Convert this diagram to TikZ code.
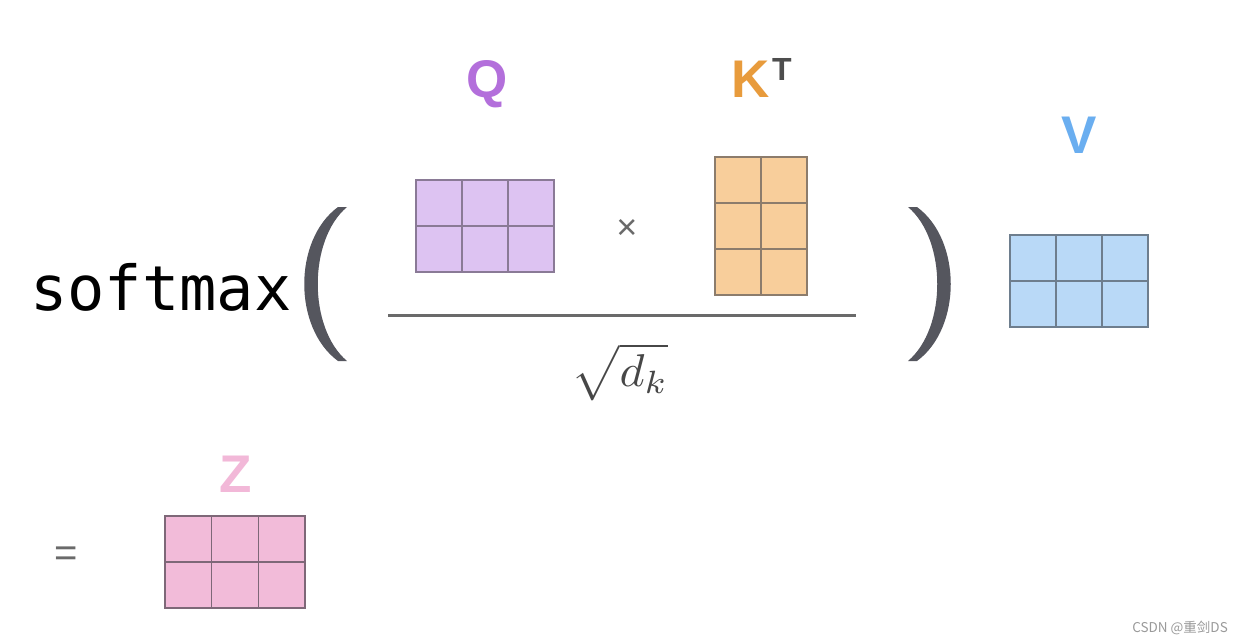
\documentclass[tikz,border=0pt]{standalone}
\usepackage{graphicx}
\usepackage{fontspec}
\setmainfont{Liberation Sans}
\newfontfamily\monofont{DejaVu Sans Mono}
\newfontfamily\cjkfont{Noto Sans CJK SC}
\usetikzlibrary{calc}
\definecolor{qfill}{HTML}{DDC3F2}
\definecolor{qline}{HTML}{8A7A96}
\definecolor{kfill}{HTML}{F8CE9B}
\definecolor{kline}{HTML}{8C7C6C}
\definecolor{vfill}{HTML}{B9D9F7}
\definecolor{vline}{HTML}{6E7E8E}
\definecolor{zfill}{HTML}{F2BBD9}
\definecolor{zline}{HTML}{7E6878}
\definecolor{qtext}{HTML}{B36FDB}
\definecolor{ktext}{HTML}{E89B3C}
\definecolor{ttext}{HTML}{4D4D4D}
\definecolor{vtext}{HTML}{6AAEF0}
\definecolor{ztext}{HTML}{F2B8D8}
\definecolor{paren}{HTML}{55565E}
\definecolor{fracline}{HTML}{6A6A6A}
\definecolor{mathgray}{HTML}{474747}
\definecolor{wm}{HTML}{9A9A9A}
\tikzset{
  mat/.style={draw, line width=1.6pt, inner sep=0pt, outer sep=0pt},
  mat32/.style={mat, minimum width=138pt, minimum height=92pt},
  mat23/.style={mat, minimum width=92pt, minimum height=138pt},
  lbl/.style={anchor=base, inner sep=0pt, font=\fontsize{53}{53}\selectfont\bfseries},
}
\begin{document}
\begin{tikzpicture}[x=1pt,y=-1pt]
\useasboundingbox (0,0) rectangle (1242,643);
\fill[white] (0,0) rectangle (1242,643);

% labels
\node[lbl, text=qtext] (Qlbl) at (487,97) {Q};
\node[lbl, text=ktext] (Klbl) at (751,97) {K};
\node[anchor=base west, inner sep=0pt, text=ttext, font=\fontsize{32}{32}\selectfont\bfseries] (Tlbl) at (772,80) {T};
\node[lbl, text=vtext] (Vlbl) at (1079,153) {V};
\node[lbl, text=ztext] (Zlbl) at (236,492) {Z};

% softmax
\node[anchor=base west, inner sep=0pt, font=\monofont\fontsize{62}{62}\selectfont] (sm) at (30,310) {softmax};

% parentheses
\fill[paren] (338,207) .. controls (293,240) and (293,328) .. (338,361)
  -- (347,361) .. controls (308,328) and (308,240) .. (347,207) -- cycle;
\fill[paren] (917,207) .. controls (962,240) and (962,328) .. (917,361)
  -- (908,361) .. controls (947,328) and (947,240) .. (908,207) -- cycle;

% Q matrix 3x2
\node[mat32, fill=qfill, draw=qline] (Q) at (485,226) {};
\foreach \f in {1/3,2/3}
  \draw[qline, line width=1.6pt] ($(Q.north west)!\f!(Q.north east)$) -- ($(Q.south west)!\f!(Q.south east)$);
\draw[qline, line width=1.6pt] (Q.west) -- (Q.east);

% times
\node[text=fracline, font=\fontsize{36}{36}\selectfont] (times) at (627,229) {×};

% K^T matrix 2x3
\node[mat23, fill=kfill, draw=kline] (K) at (761,226) {};
\draw[kline, line width=1.6pt] (K.north) -- (K.south);
\foreach \f in {1/3,2/3}
  \draw[kline, line width=1.6pt] ($(K.north west)!\f!(K.south west)$) -- ($(K.north east)!\f!(K.south east)$);

% fraction line
\coordinate (fl) at (388,315);
\coordinate (fr) at (856,315);
\draw[fracline, line width=3pt] (fl) -- (fr);

% sqrt d_k
\node[text=mathgray, inner sep=0pt] (sq) at (620,372) {\scalebox{4.8}[4.6]{$\sqrt{\mathstrut d_k}$}};

% V matrix
\node[mat32, fill=vfill, draw=vline] (V) at (1079,281) {};
\foreach \f in {1/3,2/3}
  \draw[vline, line width=1.6pt] ($(V.north west)!\f!(V.north east)$) -- ($(V.south west)!\f!(V.south east)$);
\draw[vline, line width=1.6pt] (V.west) -- (V.east);

% equals
\node[text=fracline, font=\fontsize{40}{40}\selectfont] (eq) at (66,557) {=};

% Z matrix
\node[mat32, fill=zfill, draw=zline, minimum width=140pt] (Z) at (235,562) {};
\foreach \f in {1/3,2/3}
  \draw[zline, line width=1.6pt] ($(Z.north west)!\f!(Z.north east)$) -- ($(Z.south west)!\f!(Z.south east)$);
\draw[zline, line width=1.6pt] (Z.west) -- (Z.east);

% watermark
\node[anchor=base east, inner sep=0pt, text=wm, font=\cjkfont\fontsize{13.5}{13.5}\selectfont] (wmk) at (1228,632) {CSDN @重剑DS};
\end{tikzpicture}
\end{document}
